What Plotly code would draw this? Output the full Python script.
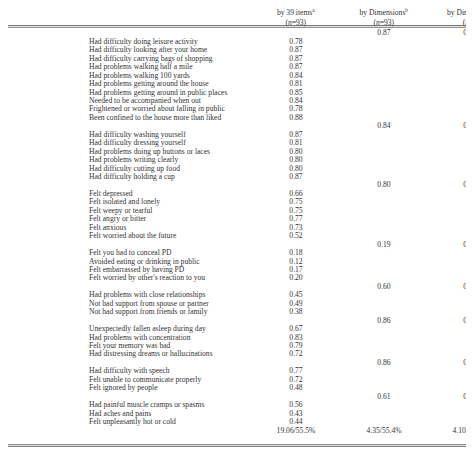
import plotly.graph_objects as go

dimensions = ["Mobility", "Activities of daily living", "Emotional well being", "Stigma",
              "Social support", "Cognitions", "Communication", "Bodily discomfort"]
dim_korean = ["0.87", "0.84", "0.80", "0.19", "0.60", "0.86", "0.86", "0.61"]
dim_uk = ["0.79", "0.79", "0.79", "0.79", "0.64", "0.79", "0.79", "0.64"]
items = [
    ["Had difficulty doing leisure activity", "Had difficulty looking after your home",
     "Had difficulty carrying bags of shopping", "Had problems walking half a mile",
     "Had problems walking 100 yards", "Had problems getting around the house",
     "Had problems getting around in public places", "Needed to be accompanied when out",
     "Frightened or worried about falling in public", "Been confined to the house more than liked"],
    ["Had difficulty washing yourself", "Had difficulty dressing yourself",
     "Had problems doing up buttons or laces", "Had problems writing clearly",
     "Had difficulty cutting up food", "Had difficulty holding a cup"],
    ["Felt depressed", "Felt isolated and lonely", "Felt weepy or tearful", "Felt angry or bitter",
     "Felt anxious", "Felt worried about the future"],
    ["Felt you had to conceal PD", "Avoided eating or drinking in public",
     "Felt embarrassed by having PD", "Felt worried by other's reaction to you"],
    ["Had problems with close relationships", "Not had support from spouse or partner",
     "Not had support from friends or family"],
    ["Unexpectedly fallen asleep during day", "Had problems with concentration",
     "Felt your memory was bad", "Had distressing dreams or hallucinations"],
    ["Had difficulty with speech", "Felt unable to communicate properly", "Felt ignored by people"],
    ["Had painful muscle cramps or spasms", "Had aches and pains", "Felt unpleasantly hot or cold"],
]
item_loadings = [
    ["0.78", "0.87", "0.87", "0.87", "0.84", "0.81", "0.85", "0.84", "0.78", "0.88"],
    ["0.87", "0.81", "0.80", "0.80", "0.80", "0.87"],
    ["0.66", "0.75", "0.75", "0.77", "0.73", "0.52"],
    ["0.18", "0.12", "0.17", "0.20"],
    ["0.45", "0.49", "0.38"],
    ["0.67", "0.83", "0.79", "0.72"],
    ["0.77", "0.72", "0.48"],
    ["0.56", "0.43", "0.44"],
]
eigen_label = "Eigenvalue/ % of variance explained"
eigen_values = ["19.06/55.5%", "4.35/55.4%", "4.10/55.6%"]
headers = ["Dimension", "Items", "Korean PDQ-39<br>by 39 items<sup>a</sup><br>(<i>n</i>=93)",
           "Korean PDQ-39<br>by Dimensions<sup>b</sup><br>(<i>n</i>=93)",
           "UK PDQ-39<br>by Dimensions<br>(<i>n</i>=2"]
footnotes = ["<sup>a</sup> Factor loadings by explorative factor analysis.",
             "<sup>b</sup> Factor loadings by higher-order principal factor analysis.",
             "UK PDQ-39: United Kingdom PDQ-39 <span style='color:#4a90c8'>(Jenkinson, Fitzpatrick, and Peto, 1998)</span>."]

TOP, STEP = 33.5, 8.45
XD, XI, XK, XDIM, XUK = -24, 89, 296, 384, 470
FONT = dict(family="Liberation Serif", size=7.6, color="#333")

left_x, left_y, left_t = [], [], []
cen_x, cen_y, cen_t = [], [], []
r = 0
for d, name in enumerate(dimensions):
    y = TOP + r * STEP
    left_x.append(XD); left_y.append(y); left_t.append(name)
    cen_x += [XDIM, XUK]; cen_y += [y, y]; cen_t += [dim_korean[d], dim_uk[d]]
    r += 1
    for it, ld in zip(items[d], item_loadings[d]):
        y = TOP + r * STEP
        left_x.append(XI); left_y.append(y); left_t.append(it)
        cen_x.append(XK); cen_y.append(y); cen_t.append(ld)
        r += 1
y_e = TOP + r * STEP
left_x.append(XD); left_y.append(y_e); left_t.append(eigen_label)
cen_x += [XK, XDIM, XUK]; cen_y += [y_e] * 3; cen_t += eigen_values

fig = go.Figure()
fig.add_trace(go.Scatter(x=left_x, y=left_y, text=left_t, mode="text",
                         textposition="middle right", textfont=FONT, cliponaxis=False))
fig.add_trace(go.Scatter(x=cen_x, y=cen_y, text=cen_t, mode="text",
                         textposition="middle center", textfont=FONT, cliponaxis=False))
hx = [XD, 160, XK, XDIM, XUK]
for i, h in enumerate(headers):
    fig.add_annotation(x=hx[i], y=3 if i < 2 else 12, text=h, showarrow=False,
                       xanchor="left" if i == 0 else "center", yanchor="middle",
                       font=FONT, align="center")
for i, f in enumerate(footnotes):
    fig.add_annotation(x=[-26, -26, -18][i], y=y_e + 23.5 + i * 8.2, text=f, showarrow=False,
                       xanchor="left", yanchor="middle", font=FONT, align="left")

for yy in (25.5, 27.3, y_e + 14, y_e + 15.8):
    fig.add_shape(type="line", xref="paper", x0=0, x1=1, y0=yy, y1=yy,
                  line=dict(color="#555", width=0.8))

fig.update_layout(width=474, height=474, margin=dict(l=0, r=0, t=0, b=0),
                  paper_bgcolor="white", plot_bgcolor="white", showlegend=False,
                  xaxis=dict(range=[8, 482], visible=False, fixedrange=True),
                  yaxis=dict(range=[482, 8], visible=False, fixedrange=True))
fig.write_html("out.html")
